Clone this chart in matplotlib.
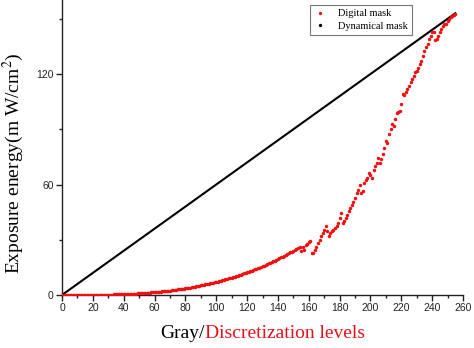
import matplotlib
matplotlib.use("Agg")
import matplotlib.pyplot as plt
from matplotlib.lines import Line2D
from matplotlib.offsetbox import TextArea, HPacker, AnchoredOffsetbox
from matplotlib.ticker import MultipleLocator

plt.rcParams["mathtext.fontset"] = "stix"

# Gray levels 0..255
gray_levels = list(range(256))

# Exposure energy of the digital mask at each gray level (mW/cm^2)
digital_mask = [
    0.00, 0.00, 0.00, 0.00, 0.00, 0.00, 0.00, 0.00, 0.00, 0.01,
    0.01, 0.01, 0.01, 0.02, 0.02, 0.02, 0.03, 0.03, 0.04, 0.05,
    0.06, 0.07, 0.08, 0.09, 0.10, 0.11, 0.13, 0.14, 0.16, 0.17,
    0.19, 0.21, 0.23, 0.26, 0.28, 0.31, 0.33, 0.36, 0.39, 0.42,
    0.46, 0.49, 0.53, 0.57, 0.61, 0.65, 0.69, 0.74, 0.79, 0.84,
    0.89, 0.94, 1.00, 1.06, 1.12, 1.18, 1.25, 1.32, 1.39, 1.46,
    1.54, 1.62, 1.70, 1.78, 1.87, 1.96, 2.05, 2.14, 2.24, 2.34,
    2.44, 2.55, 2.66, 2.77, 2.88, 3.00, 3.13, 3.25, 3.38, 3.51,
    3.64, 3.78, 3.93, 4.07, 4.22, 4.37, 4.53, 4.69, 4.85, 5.02,
    5.19, 5.36, 5.54, 5.73, 5.91, 6.10, 6.30, 6.50, 6.70, 6.91,
    7.12, 7.33, 7.55, 7.78, 8.01, 8.24, 8.48, 8.72, 8.97, 9.22,
    9.48, 9.74, 10.00, 10.27, 10.55, 10.83, 11.11, 11.40, 11.70, 12.00,
    12.30, 12.61, 12.93, 13.25, 13.57, 13.90, 14.24, 14.58, 14.93, 15.28,
    15.64, 16.00, 16.37, 16.75, 17.13, 17.52, 17.91, 18.31, 18.71, 19.12,
    19.53, 19.96, 20.38, 20.82, 21.26, 21.70, 22.16, 22.61, 23.08, 23.55,
    24.03, 24.51, 25.00, 25.50, 26.00, 24.0, 25.8, 24.6, 27.0, 27.8,
    28.6, 29.2, 23.0, 22.8, 24.5, 26.3, 28.2, 30.0, 31.8, 33.6,
    35.4, 37.2, 34.5, 31.8, 33.6, 34.6, 35.4, 36.5, 37.2, 39.0,
    41.8, 44.5, 39.0, 40.0, 41.8, 43.6, 45.4, 47.2, 49.0, 50.5,
    52.7, 55.4, 57.2, 60.0, 55.4, 56.3, 60.9, 62.5, 63.6, 66.3,
    65.4, 63.6, 68.1, 70.0, 71.8, 74.5, 71.8, 73.6, 76.3, 79.9,
    83.5, 82.6, 87.2, 90.0, 92.6, 91.7, 95.4, 99.0, 99.6, 99.9,
    103.5, 109.0, 108.5, 110.0, 111.7, 113.5, 115.4, 117.2, 119.0, 121.0,
    121.7, 123.5, 125.3, 127.1, 129.9, 132.7, 134.5, 136.2, 139.0, 140.8,
    142.6, 143.0, 138.5, 139.0, 140.8, 142.6, 144.4, 146.2, 147.1, 147.1,
    149.0, 149.8, 150.8, 151.7, 152.0, 152.6,
]

# Dynamical mask: linear response end points
dyn_gray = [0, 255]
dyn_energy = [0, 153]

x_ticks = [0, 20, 40, 60, 80, 100, 120, 140, 160, 180, 200, 220, 240, 260]
y_ticks = [0, 60, 120]

fig = plt.figure(figsize=(4.74, 3.48), dpi=100)
ax = fig.add_axes([62 / 474, 53 / 348, 401 / 474, 295 / 348])

ax.plot(dyn_gray, dyn_energy, color="black", lw=1.5, zorder=2)
ax.plot(gray_levels, digital_mask, linestyle="none", marker="o",
        markersize=2.5, markeredgewidth=0, color="#f01010", zorder=3)

ax.set_xlim(0, 260)
ax.set_ylim(0, 160.2)
ax.set_xticks(x_ticks)
ax.set_yticks(y_ticks)
ax.xaxis.set_minor_locator(MultipleLocator(10))
ax.yaxis.set_minor_locator(MultipleLocator(30))

for s in ("top", "right"):
    ax.spines[s].set_visible(False)
for s in ("left", "bottom"):
    ax.spines[s].set_linewidth(1.0)
    ax.spines[s].set_color("#222222")

ax.tick_params(which="major", direction="out", length=4, width=1,
               labelsize=7.5, colors="#222222", pad=2,
               labelfontfamily="Liberation Sans")
ax.tick_params(which="minor", direction="out", length=2.2, width=1,
               colors="#222222")

ax.set_ylabel("Exposure energy(m W/cm$^{2}$)", family="Liberation Serif",
              fontsize=14)
ax.yaxis.set_label_coords(-0.09, 0.445)

# Two-coloured x-axis title
t1 = TextArea("Gray/", textprops=dict(color="black", family="Liberation Serif",
                                      fontsize=14))
t2 = TextArea("Discretization levels",
              textprops=dict(color="#e8101a", family="Liberation Serif",
                             fontsize=14))
box = HPacker(children=[t1, t2], align="baseline", pad=0, sep=0)
anchored = AnchoredOffsetbox(loc="upper center", child=box, pad=0,
                             frameon=False, bbox_to_anchor=(0.5, -0.1),
                             bbox_transform=ax.transAxes, borderpad=0)
ax.add_artist(anchored)

handles = [
    Line2D([], [], linestyle="none", marker="o", markersize=2.4,
           markeredgewidth=0, color="#f01010"),
    Line2D([], [], linestyle="none", marker="o", markersize=2.4,
           markeredgewidth=0, color="black"),
]
leg = ax.legend(handles, ["Digital mask", "Dynamical mask"],
                loc="upper left", bbox_to_anchor=(248 / 401, 1 - 5 / 295),
                prop=dict(family="Liberation Serif", size=7.5),
                fancybox=False, frameon=True, edgecolor="#555555",
                borderpad=0.4, handlelength=1.2, handletextpad=1.1,
                labelspacing=0.3, borderaxespad=0)
leg.get_frame().set_linewidth(0.8)

fig.savefig("out.png", dpi=100)
